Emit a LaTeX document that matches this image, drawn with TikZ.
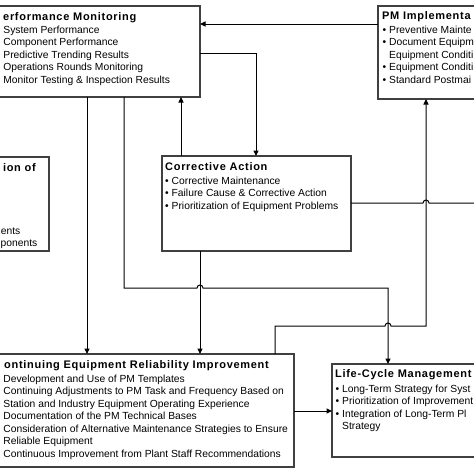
\documentclass[tikz,border=0pt]{standalone}
\usepackage{fontspec}
\setmainfont{Liberation Sans}
\newfontfamily\ttlfam[LetterSpace=6.4]{Liberation Sans}
\usetikzlibrary{arrows.meta,calc}
\newcommand\bu{\makebox[6.5pt][l]{\textbullet}}
\newcommand\bc{\hspace*{6.5pt}}
\begin{document}
\begin{tikzpicture}[x=1pt,y=-1pt,
 box/.style={draw=black!75,line width=1.1pt,inner sep=0pt,outer sep=0pt,anchor=north west},
 ttl/.style={font=\ttlfam\bfseries\fontsize{11}{13}\selectfont,inner sep=0pt,anchor=base west},
 lst/.style={font=\fontsize{10.3}{12.5}\selectfont,align=left,inner sep=0pt,anchor=north west},
 frag/.style={font=\fontsize{10.3}{12.5}\selectfont,inner sep=0pt,anchor=base east},
 conn/.style={line width=1pt,draw=black},
 arr/.style={-{Triangle[length=5.5pt,width=5pt]}},
]
\useasboundingbox (0,0) rectangle (474,474);
\clip (0,0) rectangle (474,474);
% boxes
\node[box,minimum width=215pt,minimum height=91pt] (PM) at (-15,6) {};
\node[box,minimum width=115pt,minimum height=93pt] (PI) at (378,6) {};
\node[box,minimum width=189pt,minimum height=95pt] (CA) at (162,156) {};
\node[box,minimum width=69pt,minimum height=94pt] (LB) at (-20,157) {};
\node[box,minimum width=314pt,minimum height=113pt] (CE) at (-20,354) {};
\node[box,minimum width=160pt,minimum height=93pt] (LC) at (332,364) {};
% texts
\node[ttl] (PMt) at (3,20) {erformance Monitoring};
\node[lst] (PMl) at (3.2,25.6) {System Performance\\ Component Performance\\ Predictive Trending Results\\ Operations Rounds Monitoring\\ Monitor Testing \& Inspection Results};
\node[ttl] (PIt) at (382,19.5) {PM Implementa};
\node[lst] (PIl) at (382.5,25.6) {\bu Preventive Mainte\\ \bu Document Equipm\\ \bc Equipment Conditi\\ \bu Equipment Conditi\\ \bu Standard Postmai};
\node[ttl] (CAt) at (165,170) {Corrective Action};
\node[lst] (CAl) at (165,176.6) {\bu Corrective Maintenance\\ \bu Failure Cause \& Corrective Action\\ \bu Prioritization of Equipment Problems};
\node[ttl,anchor=base east] (LBt) at (36,171) {ion of};
\node[frag] (LB1) at (20.5,234) {ents};
\node[frag] (LB2) at (37.5,246.5) {ponents};
\node[ttl] (CEt) at (4,368.5) {ontinuing Equipment Reliability Improvement};
\node[lst] (CEl) at (3.2,374.6) {Development and Use of PM Templates\\
Continuing Adjustments to PM Task and Frequency Based on\\
Station and Industry Equipment Operating Experience\\
Documentation of the PM Technical Bases\\
Consideration of Alternative Maintenance Strategies to Ensure\\
Reliable Equipment\\
Continuous Improvement from Plant Staff Recommendations};
\node[ttl] (LCt) at (335,377.5) {Life-Cycle Management};
\node[lst] (LCl) at (335.5,384.6) {\bu Long-Term Strategy for Syst\\ \bu Prioritization of Improvement\\ \bu Integration of Long-Term Pl\\ \bc Strategy};
% connectors
\coordinate (offR) at (480,203);
\draw[conn,arr] (PI.west |- 0,24) -- (PM.east |- 0,24);
\draw[conn,arr] (PM.east |- 0,53) -| (CA.north -| 256,0);
\draw[conn,arr] (CA.north -| 181,0) -- (PM.south -| 181,0);
\draw[conn,arr] (PM.south -| 87,0) -- (CE.north -| 87,0);
\draw[conn,arr] (CA.south -| 200,0) -- (CE.north -| 200,0);
\draw[conn,arr] (PM.south -| 124,0) -- (124,288) -- (197,288) arc[start angle=180,end angle=0,radius=3pt] -- (388,288) -- (LC.north -| 388,0);
\draw[conn,arr] (CE.north -| 275,0) -- (275,326) -- (385,326) arc[start angle=180,end angle=0,radius=3pt] -- (426,326) -- (PI.south -| 426,0);
\draw[conn,arr] (CE.east |- 0,411) -- (LC.west |- 0,411);
\draw[conn] (CA.east |- 0,203) -- (423,203) arc[start angle=180,end angle=0,radius=3pt] -- (offR);
\end{tikzpicture}
\end{document}
